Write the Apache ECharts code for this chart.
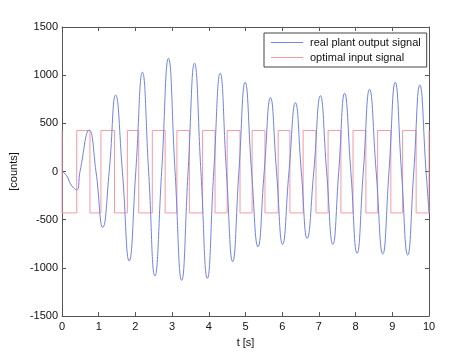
<!DOCTYPE html>
<html><head><meta charset="utf-8">
<script src="https://cdn.jsdelivr.net/npm/echarts@6/dist/echarts.min.js"></script>
<style>html,body{margin:0;padding:0;background:#fff}#c{width:474px;height:355px}</style>
</head><body><div id="c"></div>
<script>
// Plant output (peaks, troughs and zero crossings)
const outputT = [0, 0.12, 0.25, 0.40, 0.49, 0.74, 0.925, 1.11, 1.285, 1.46, 1.645, 1.83, 2.01, 2.19, 2.36, 2.53, 2.715, 2.90, 3.08, 3.26, 3.435, 3.61, 3.785, 3.96, 4.135, 4.31, 4.48, 4.65, 4.82, 4.99, 5.165, 5.34, 5.51, 5.68, 5.845, 6.01, 6.185, 6.36, 6.52, 6.68, 6.86, 7.04, 7.21, 7.38, 7.54, 7.70, 7.87, 8.04, 8.21, 8.38, 8.56, 8.74, 8.91, 9.08, 9.25, 9.42, 9.585, 9.75, 9.92, 10];
const outputV = [0, -40, -140, -192, 0, 430, 0, -580, 0, 794, 0, -929, 0, 1030, 0, -1085, 0, 1175, 0, -1130, 0, 1124, 0, -1109, 0, 1020, 0, -936, 0, 926, 0, -781, 0, 766, 0, -756, 0, 714, 0, -694, 0, 787, 0, -756, 0, 812, 0, -850, 0, 853, 0, -857, 0, 926, 0, -867, 0, 898, 0, -420];
// Optimal input (switching times and levels)
const inputT = [0, 0, 0.40, 0.76, 1.06, 1.43, 1.78, 2.09, 2.46, 2.81, 3.13, 3.47, 3.83, 4.17, 4.50, 4.85, 5.18, 5.53, 5.89, 6.21, 6.57, 6.92, 7.25, 7.60, 7.93, 8.28, 8.60, 8.96, 9.28, 9.65, 10];
const inputV = [425, -430, 425, -430, 425, -430, 425, -430, 425, -430, 425, -430, 425, -430, 425, -430, 425, -430, 425, -430, 425, -430, 425, -430, 425, -430, 425, -430, 425, -430, 425];
const xTicks = [0,1,2,3,4,5,6,7,8,9,10];
const yTicks = [-1500,-1000,-500,0,500,1000,1500];
const seriesNames = ['real plant output signal', 'optimal input signal'];

const chart = echarts.init(document.getElementById('c'), null, {renderer:'canvas'});
const font = 'Liberation Sans, Arial, sans-serif';
const axisCol = '#555';
const baseX = {type:'value', min:xTicks[0], max:xTicks[xTicks.length-1], interval:1,
  axisLine:{show:true, onZero:false, lineStyle:{color:axisCol, width:1}},
  axisTick:{show:true, inside:true, length:4, lineStyle:{color:axisCol}},
  splitLine:{show:false}};
const baseY = {type:'value', min:yTicks[0], max:yTicks[yTicks.length-1], interval:500,
  axisLine:{show:true, onZero:false, lineStyle:{color:axisCol, width:1}},
  axisTick:{show:true, inside:true, length:4, lineStyle:{color:axisCol}},
  splitLine:{show:false}};
chart.setOption({
  animation:false,
  backgroundColor:'#fff',
  grid:{left:62, right:45, top:27, bottom:39, containLabel:false},
  xAxis:[
    Object.assign({}, baseX, {position:'bottom', name:'t [s]', nameLocation:'middle', nameGap:21,
      nameTextStyle:{color:'#111', fontSize:11, fontFamily:font},
      axisLabel:{color:'#111', fontSize:11, fontFamily:font, margin:5, formatter:v=>String(v)}}),
    Object.assign({}, baseX, {position:'top', axisLabel:{show:false}})
  ],
  yAxis:[
    Object.assign({}, baseY, {position:'left', name:'[counts]', nameLocation:'middle', nameGap:33,
      nameTextStyle:{color:'#111', fontSize:11, fontFamily:font},
      axisLabel:{color:'#111', fontSize:11, fontFamily:font, margin:4, formatter:v=>String(v)}}),
    Object.assign({}, baseY, {position:'right', axisLabel:{show:false}})
  ],
  legend:{orient:'vertical', left:264, top:33, width:150,
    padding:[4,6,4,7], itemGap:4, itemWidth:32, itemHeight:1, icon:'rect',
    borderColor:'#444', borderWidth:1, backgroundColor:'#fff',
    textStyle:{color:'#111', fontSize:11, fontFamily:font, padding:[0,0,0,2]},
    data:seriesNames},
  series:[
    {name:seriesNames[0], type:'line', data:outputT.map((t,i)=>[t,outputV[i]]),
     smooth:0.5, showSymbol:false, symbol:'none', lineStyle:{color:'#7083e6', width:1}, itemStyle:{color:'#7083e6'}, z:3},
    {name:seriesNames[1], type:'line', data:inputT.map((t,i)=>[t,inputV[i]]),
     step:'end', showSymbol:false, symbol:'none', lineStyle:{color:'#f39aa4', width:1}, itemStyle:{color:'#f39aa4'}, z:2}
  ]
});
</script></body></html>
